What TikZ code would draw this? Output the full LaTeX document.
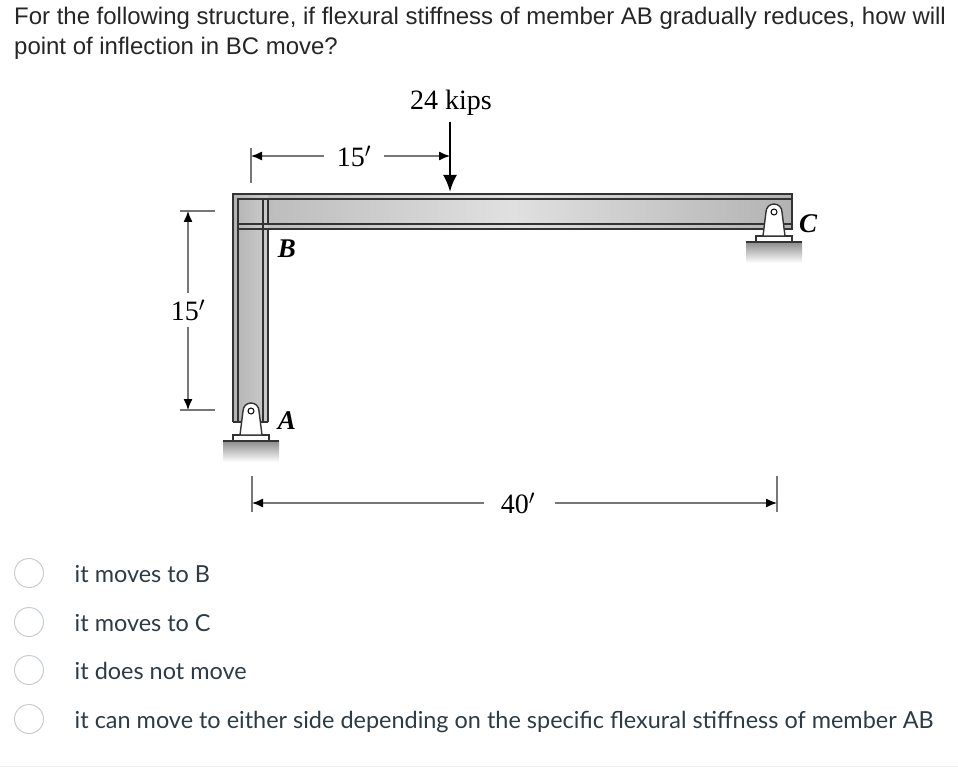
\documentclass[tikz,border=0pt]{standalone}
\usepackage{fontspec}
\usepackage{tikz}
\usetikzlibrary{arrows.meta, positioning}
\setmainfont{Liberation Serif}
\newfontfamily\questionfont{Liberation Sans}
\newfontfamily\answerfont{Lato}
\definecolor{inktext}{HTML}{2D3B45}
\definecolor{radioedge}{HTML}{C7CDD1}
\definecolor{dimline}{HTML}{777777}

\tikzset{
	question/.style={anchor=base west, inner sep=0pt, font=\questionfont\fontsize{23.96}{28}\selectfont, text=black!85},
	answer/.style={anchor=base west, inner sep=0pt, font=\answerfont\fontsize{23.45}{28}\selectfont, text=inktext},
	radio/.style={circle, draw=radioedge, line width=1pt, minimum size=29pt, inner sep=0pt},
	dimension/.style={draw=dimline, line width=1.3pt},
	dimtext/.style={inner sep=0pt, font=\fontsize{28}{32}\selectfont},
	joint/.style={inner sep=0pt, font=\bfseries\itshape\fontsize{27}{30}\selectfont},
	flange/.style={draw=black!80, line width=1.4pt},
	ground/.style={top color=black!45, bottom color=white, draw=none},
}

\begin{document}
\begin{tikzpicture}[x=1pt, y=-1pt, >={Latex[length=11pt,width=9pt,color=black]}]
	\useasboundingbox (0,0) rectangle (958,775);
	% question
	\node[question] (line1) at (14,25) {For the following structure, if flexural stiffness of member AB gradually reduces, how will};
	\node[question] (line2) at (14,55) {point of inflection in BC move?};

	% beam and column
	\fill[left color=black!28, right color=black!30, middle color=black!12] (233,194) rectangle (792,229);
	\fill[left color=black!30, right color=black!20] (233,194) rectangle (268,422);
	\draw[flange] (233,422) -- (233,194) -- (792,194) -- (792,229) -- (238,229);
	\draw[flange] (268,229) -- (268,422);
	\draw[flange] (238,422) -- (238,199) -- (792,199);
	\draw[flange] (263,422) -- (263,199);
	\draw[flange] (268,199) -- (268,224);
	\draw[flange] (238,224) -- (792,224);
	\draw[flange] (233,422) -- (241,422) (260,422) -- (268,422);

	% supports
	\foreach \name/\x/\y in {A/251/411, C/774/212} {
		\fill[ground] (\x-28,\y+30) rectangle (\x+28,\y+51);
		\draw[flange, fill=white] (\x-18,\y+30) -- (\x-18,\y+24) -- (\x+18,\y+24) -- (\x+18,\y+30);
		\draw[flange, fill=white] (\x-11,\y+24) -- (\x-8,\y) arc[start angle=180, end angle=360, radius=8] -- (\x+11,\y+24) -- cycle;
		\draw[line width=1pt, fill=white] (\x,\y) circle[radius=3];
		\draw[flange, line width=1.6pt] (\x-28,\y+30) -- (\x+28,\y+30);
	}
	\node[joint] (A) at (287,421) {A};
	\node[joint] (B) at (287,249) {B};
	\node[joint] (C) at (808,224) {C};

	% load
	\node[dimtext] (load) at (451,103) {24 kips};
	\coordinate (loadtop) at (450,122);
	\coordinate (loadtip) at (450,192);
	\draw[-{Latex[length=17pt,width=14pt]}, black, line width=2.6pt] (loadtop) -- (loadtip);

	% dimensions
	\node[dimtext] (top15) at (354,156) {15$'$};
	\node[dimtext] (left15) at (188,310) {15$'$};
	\node[dimtext] (bottom40) at (518,503) {40$'$};
	\coordinate (toptick) at (251,156);
	\coordinate (lefttop) at (188,211);
	\coordinate (leftbottom) at (188,410);
	\coordinate (bottomleft) at (252,503);
	\coordinate (bottomright) at (777,503);
	\draw[dimension] (251,148) -- (251,183);
	\draw[dimension] (180,211) -- (215,211);
	\draw[dimension] (180,410) -- (215,410);
	\draw[dimension] (252,476) -- (252,512);
	\draw[dimension] (777,476) -- (777,512);
	\draw[dimension, ->] (top15.west) ++(-13,0) -- (toptick);
	\draw[dimension, ->] (top15.east) ++(13,0) -- (450,156);
	\draw[dimension, ->] (left15.north) ++(0,-6) -- (lefttop);
	\draw[dimension, ->] (left15.south) ++(0,6) -- (leftbottom);
	\draw[dimension, ->] (bottom40.west) ++(-17,0) -- (bottomleft);
	\draw[dimension, ->] (bottom40.east) ++(20,0) -- (bottomright);

	% answers
	\node[radio] (r1) at (29,573) {};
	\node[radio] (r2) at (29,622) {};
	\node[radio] (r3) at (29,670) {};
	\node[radio] (r4) at (29,719) {};
	\node[answer] (a1) at (74.5,582) {it moves to B};
	\node[answer] (a2) at (74.5,631) {it moves to C};
	\node[answer] (a3) at (74.5,679) {it does not move};
	\node[answer] (a4) at (74.5,728) {it can move to either side depending on the specific flexural stiffness of member AB};
	\draw[black!6, line width=1pt] (0,766) -- (958,766);
\end{tikzpicture}
\end{document}
